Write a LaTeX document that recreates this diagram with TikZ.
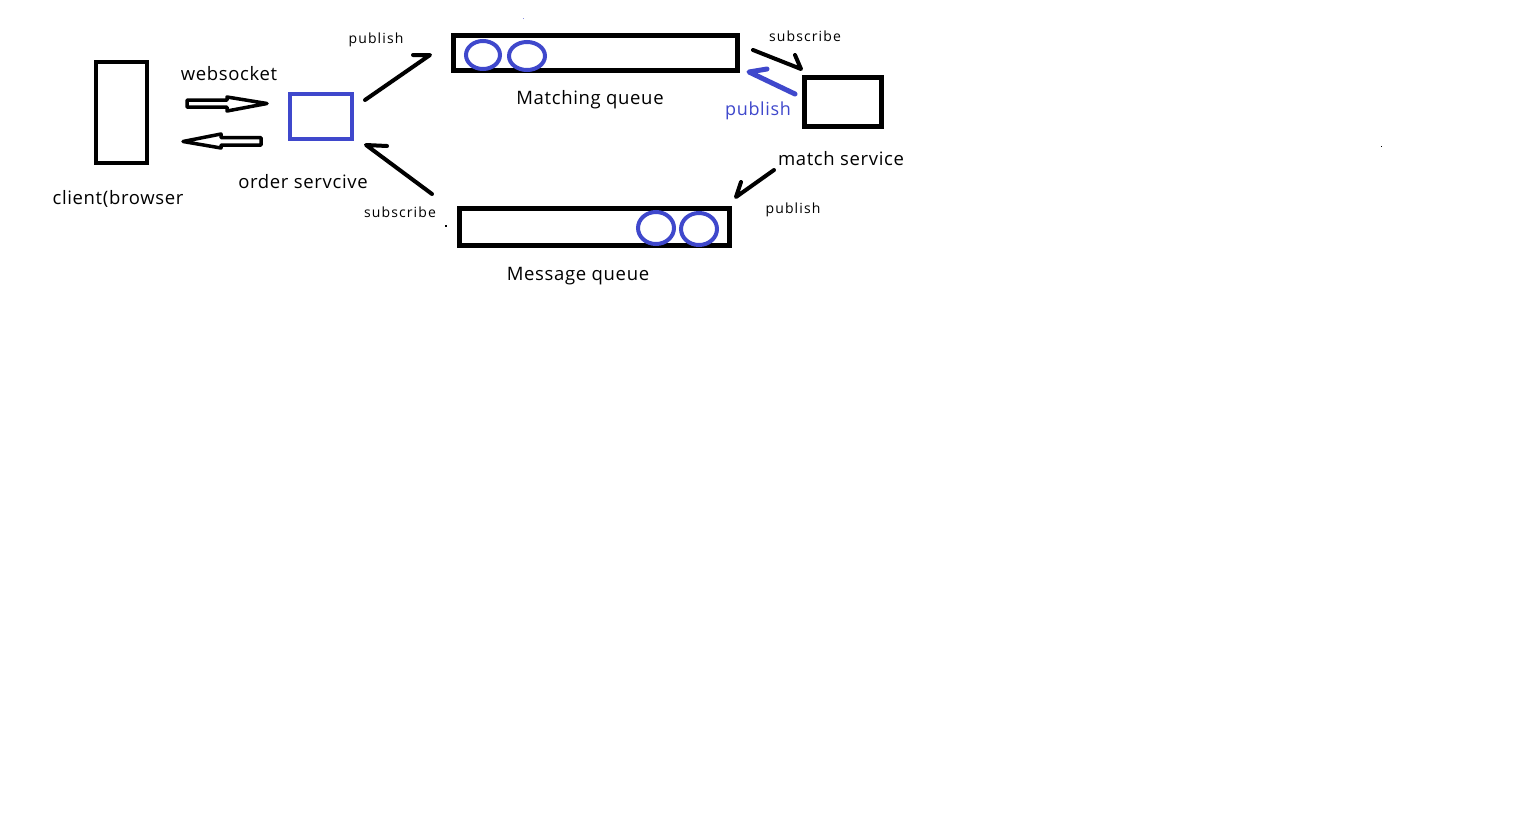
\documentclass[tikz,border=0pt]{standalone}
\usepackage{fontspec}
\setmainfont{Open Sans}
\newfontfamily\bigfont[LetterSpace=3.5]{Open Sans}
\newfontfamily\smallfont[LetterSpace=8]{Open Sans}
\definecolor{paintblue}{RGB}{63,72,204}
\begin{document}
\begin{tikzpicture}[x=1pt,y=-1pt,
  box/.style={draw=black,line width=4.5pt,inner sep=0pt},
  bluebox/.style={draw=paintblue,line width=4pt,inner sep=0pt},
  ball/.style={draw=paintblue,line width=4pt},
  stroke/.style={draw=black,line width=4pt,line cap=round,line join=round},
  bluestroke/.style={draw=paintblue,line width=5pt,line cap=round,line join=round},
  big/.style={font=\bigfont\fontsize{18.5}{21}\selectfont,inner sep=0pt},
  small/.style={font=\smallfont\fontsize{14}{16}\selectfont,inner sep=0pt},
  bluelabel/.style={font=\bigfont\fontsize{18}{21}\selectfont,inner sep=0pt,text=paintblue}]
\useasboundingbox (0,0) rectangle (1514,825);
\fill[white] (0,0) rectangle (1514,825);
% boxes
\node[box,minimum width=51pt,minimum height=101pt] (client) at (121.5,112.5) {};
\node[bluebox,minimum width=62pt,minimum height=45pt] (order) at (321,116.5) {};
\node[box,minimum width=284pt,minimum height=35pt] (mq) at (595.5,53) {};
\node[box,minimum width=77pt,minimum height=49pt] (match) at (843,102) {};
\node[box,minimum width=270pt,minimum height=37pt] (msgq) at (594.5,227) {};
% balls
\draw[ball] (483,55) ellipse [x radius=17, y radius=14];
\draw[ball] (527,56) ellipse [x radius=18, y radius=14];
\draw[ball] (656,228) ellipse [x radius=18, y radius=16];
\draw[ball] (699,229) ellipse [x radius=18, y radius=16];
% labels
\node[big] (lclient) at (118,198.5) {client(browser};
\node[big] (lws) at (229,74) {websocket};
\node[big] (lorder) at (303,182) {order servcive};
\node[big] (lmq) at (590,99.5) {Matching queue};
\node[big] (lmatch) at (841,159) {match service};
\node[big] (lmsg) at (578,276.5) {Message queue};
\node[small] (lpub1) at (376,40) {publish};
\node[small] (lsub1) at (400,212) {subscribe};
\node[small] (lsub2) at (805,36) {subscribe};
\node[small] (lpub3) at (793,210) {publish};
\node[bluelabel] (lpub2) at (758,110.5) {publish};
% hollow arrows
\draw[stroke,line width=3.5pt] (187,100) -- (227,100) -- (227,97) -- (267,103.5) -- (227,111) -- (227,107) -- (187,107) -- cycle;
\draw[stroke,line width=3.5pt] (261,137.5) -- (221,137.5) -- (221,134) -- (183,141.5) -- (221,148) -- (221,145) -- (261,145) -- cycle;
% hand-drawn arrows
\coordinate (a1s) at (365,100); \coordinate (a1t) at (430,55); \coordinate (a1b) at (413,55);
\draw[stroke] (a1s) -- (a1t) -- (a1b);
\coordinate (a2s) at (432,194); \coordinate (a2t) at (366,145); \coordinate (a2b) at (387,146);
\draw[stroke] (a2s) -- (a2t) -- (a2b);
\coordinate (a3s) at (753,50); \coordinate (a3t) at (801,69); \coordinate (a3b) at (795,55);
\draw[stroke] (a3s) -- (a3t) -- (a3b);
\coordinate (a4s) at (795,94); \coordinate (a4t) at (749,72); \coordinate (a4b) at (767,69);
\draw[bluestroke] (a4s) -- (a4t) -- (a4b);
\coordinate (a5s) at (774,170); \coordinate (a5t) at (736,197); \coordinate (a5b) at (741,182);
\draw[stroke] (a5s) -- (a5t) -- (a5b);
% stray marks
\fill[black] (445,225) rectangle (446.5,227);
\fill[black] (1380.5,145.5) rectangle (1382,147);
\fill[paintblue!60] (522.5,17.5) rectangle (523.5,18.5);
\end{tikzpicture}
\end{document}
